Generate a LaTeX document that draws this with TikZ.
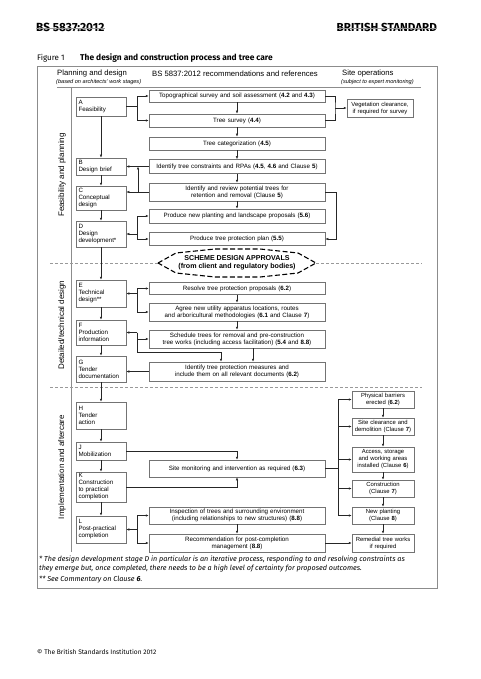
\documentclass[tikz,border=0pt]{standalone}
\usepackage{fontspec}
\setmainfont{Liberation Sans}
\newfontfamily\bsfont{Fira Sans}
\usetikzlibrary{arrows.meta}

\tikzset{
  stagebox/.style={draw=black!55, line width=0.5pt, font=\fontsize{6.2}{7}\selectfont, align=left, text width=45pt, inner xsep=2.5pt, inner ysep=1pt},
  recbox/.style={draw=black!55, line width=0.5pt, font=\fontsize{6.2}{7}\selectfont, align=center, text width=172pt, inner xsep=2pt, inner ysep=1pt},
  sitebox/.style={draw=black!55, line width=0.5pt, font=\fontsize{5.9}{7}\selectfont, align=center, text width=60pt, inner xsep=1pt, inner ysep=1pt},
  conn/.style={draw=black!85, line width=0.5pt},
  arr/.style={conn, -{Latex[length=3pt,width=2.4pt]}},
  sepline/.style={draw=black!40, line width=0.6pt, dash pattern=on 3pt off 2pt},
  laneline/.style={draw=black!45, line width=0.6pt},
  headtext/.style={font=\fontsize{7.7}{8.5}\selectfont, anchor=west, inner sep=0pt},
  subhead/.style={font=\fontsize{5.6}{6.5}\selectfont\itshape, anchor=west, inner sep=0pt},
  lanetext/.style={font=\fontsize{8}{9}\selectfont, rotate=90, inner sep=0pt},
}

\begin{document}
\begin{tikzpicture}[x=1pt,y=1pt,yscale=-1,xscale=1]
        \useasboundingbox (0,0) rectangle (480,679);

        %Page header
        \node[anchor=west, inner sep=0pt, font=\bsfont\bfseries\fontsize{11.8}{13}\selectfont] (bsno) at (36,27) {BS 5837:2012};
        \node[anchor=east, inner sep=0pt, font=\bsfont\bfseries\fontsize{11.6}{13}\selectfont] (bsname) at (437,27) {BRITISH STANDARD};
        \draw [black!40, line width=1pt] ([yshift=-2.5pt]bsno.south west) -- ([yshift=-2.5pt]bsno.south east) ;
        \draw [black!40, line width=1pt] ([yshift=-2.5pt]bsname.south west) -- ([yshift=-2.5pt]bsname.south east) ;
        \node[anchor=west, inner sep=0pt, font=\bsfont\fontsize{8}{9}\selectfont] (fignum) at (37,58) {Figure 1};
        \node[anchor=west, inner sep=0pt, font=\bsfont\bfseries\fontsize{8.4}{9}\selectfont] (figtitle) at (80,58) {The design and construction process and tree care};

        %Shape: Frame
        \draw [black!45, line width=0.7pt] (37,66) rectangle (437,588) ;
        %Straight Lines: header rule and lane rule
        \draw [laneline] (57,87) -- (421,87) ;
        \draw [laneline] (71,87) -- (71,552) ;

        %Column headings
        \node[headtext] (hplan) at (57,74) {Planning and design};
        \node[subhead] (hplansub) at (56,82) {(based on architects' work stages)};
        \node[headtext] (hrec) at (152,74) {BS 5837:2012 recommendations and references};
        \node[headtext] (hsite) at (342,74) {Site operations};
        \node[subhead] (hsitesub) at (341,82) {(subject to expert monitoring)};

        %Lane labels
        \node[lanetext] (lane1) at (62,175) {Feasibility and planning};
        \node[lanetext] (lane2) at (62,325) {Detailed/technical design};
        \node[lanetext] (lane3) at (62,467) {Implementation and aftercare};

        %Dashed separators
        \draw [sepline] (50,263) -- (158,263) ;
        \draw [sepline] (316,263) -- (422,263) ;
        \draw [sepline] (50,387) -- (422,387) ;

        %Stages
        \node[stagebox, minimum height=19pt] (stA) at (101,106.5) {A\\Feasibility};
        \node[stagebox, minimum height=17pt] (stB) at (101,166.5) {B\\Design brief};
        \node[stagebox, minimum height=24pt] (stC) at (101,198) {C\\Conceptual\\design};
        \node[stagebox, minimum height=26pt] (stD) at (101,234) {D\\Design\\development*};
        \node[stagebox, minimum height=27pt] (stE) at (101,293.5) {E\\Technical\\design**};
        \node[stagebox, minimum height=25pt] (stF) at (101,332.5) {F\\Production\\information};
        \node[stagebox, minimum height=26pt] (stG) at (101,369) {G\\Tender\\documentation};
        \node[stagebox, minimum height=27pt] (stH) at (101,415.5) {H\\Tender\\action};
        \node[stagebox, minimum height=18pt] (stJ) at (101,451) {J\\Mobilization};
        \node[stagebox, minimum height=30pt] (stK) at (101,487) {K\\Construction\\to practical\\completion};
        \node[stagebox, minimum height=27pt] (stL) at (101,529.5) {L\\Post-practical\\completion};

        %Recommendations and references
        \node[recbox, minimum height=12pt] (topo) at (237,96) {Topographical survey and soil assessment (\textbf{4.2} and \textbf{4.3})};
        \node[recbox, minimum height=13pt] (survey) at (237,120.5) {Tree survey (\textbf{4.4})};
        \node[recbox, minimum height=13pt] (categ) at (237,143.5) {Tree categorization (\textbf{4.5})};
        \node[recbox, minimum height=14pt] (constr) at (237,166.5) {Identify tree constraints and RPAs (\textbf{4.5}, \textbf{4.6} and Clause \textbf{5})};
        \node[recbox, minimum height=18pt] (review) at (237,192) {Identify and review potential trees for\\retention and removal (Clause \textbf{5})};
        \node[recbox, minimum height=14pt] (planting) at (237,216) {Produce new planting and landscape proposals (\textbf{5.6})};
        \node[recbox, minimum height=13pt] (tpp) at (237,239) {Produce tree protection plan (\textbf{5.5})};
        \node[recbox, minimum height=12pt] (resolve) at (237,288.5) {Resolve tree protection proposals (\textbf{6.2})};
        \node[recbox, minimum height=18pt] (agree) at (237,312) {Agree new utility apparatus locations, routes\\and arboricultural methodologies (\textbf{6.1} and Clause \textbf{7})};
        \node[recbox, minimum height=18pt] (schedule) at (237,339) {Schedule trees for removal and pre-construction\\tree works (including access facilitation) (\textbf{5.4} and \textbf{8.8})};
        \node[recbox, minimum height=19pt] (measures) at (237,371.5) {Identify tree protection measures and\\include them on all relevant documents (\textbf{6.2})};
        \node[recbox, minimum height=17pt] (monitor) at (237,468.5) {Site monitoring and intervention as required (\textbf{6.3})};
        \node[recbox, minimum height=17pt] (inspect) at (237,515.5) {Inspection of trees and surrounding environment\\(including relationships to new structures) (\textbf{8.8})};
        \node[recbox, minimum height=18pt] (recommend) at (237,543) {Recommendation for post-completion\\management (\textbf{8.8})};

        %Scheme design approvals
        \draw [line width=1.1pt, dash pattern=on 5pt off 2.5pt] (158,263) -- (176,253) -- (215,249) -- (260,249) -- (298,253) -- (316,263) -- (298,273) -- (260,277) -- (215,277) -- (176,273) -- cycle ;
        \node[align=center, inner sep=0pt, font=\bfseries\fontsize{7.1}{8}\selectfont] (approvals) at (237,263) {SCHEME DESIGN APPROVALS\\(from client and regulatory bodies)};

        %Site operations
        \node[sitebox, text width=64pt, minimum height=18pt] (veg) at (380,108) {Vegetation clearance,\\if required for survey};
        \node[sitebox, minimum height=17pt] (barriers) at (383,399.5) {Physical barriers\\erected (\textbf{6.2})};
        \node[sitebox, minimum height=17pt] (clearance) at (383,426.5) {Site clearance and\\demolition (Clause \textbf{7})};
        \node[sitebox, minimum height=25pt] (access) at (383,459.5) {Access, storage\\and working areas\\installed (Clause \textbf{6})};
        \node[sitebox, minimum height=17pt] (build) at (383,488.5) {Construction\\(Clause \textbf{7})};
        \node[sitebox, minimum height=17pt] (newplant) at (383,515.5) {New planting\\(Clause \textbf{8})};
        \node[sitebox, minimum height=18pt] (remedial) at (383,543) {Remedial tree works\\if required};

        %Junction points
        \coordinate (forkA) at (137,106.5);
        \coordinate (jB) at (138,166.5);
        \coordinate (forkD) at (137,234);
        \coordinate (forkE) at (137,293.5);
        \coordinate (forkF) at (137,332.5);
        \coordinate (bendF) at (137,352);
        \coordinate (forkL) at (137,529.5);
        \coordinate (vegbr) at (335,108);
        \coordinate (revbr) at (336,192);
        \coordinate (sitebr) at (338,468.5);

        %Straight Lines: stage sequence
        \foreach \a/\b in {stA/stB, stB/stC, stC/stD, stD/stE, stE/stF, stF/stG, stG/stH, stH/stJ, stJ/stK, stK/stL}
          \draw [arr] (\a) -- (\b) ;

        %Straight Lines: recommendations sequence
        \foreach \a/\b in {topo/survey, survey/categ, categ/constr, constr/review, review/planting, resolve/agree, agree/schedule, inspect/recommend}
          \draw [arr] (\a) -- (\b) ;
        \draw [arr] ([xshift=16pt]schedule.south) -- ([xshift=16pt]measures.north) ;

        %Straight Lines: site operations sequence
        \foreach \a/\b in {barriers/clearance, clearance/access, access/build, build/newplant, newplant/remedial}
          \draw [arr] (\a) -- (\b) ;

        %Straight Lines: stage links
        \draw [conn] (stA.east) -- (forkA) ;
        \draw [arr] (forkA) |- (topo.west) ;
        \draw [arr] (forkA) |- (survey.west) ;
        \draw [arr] (constr.west) -- (stB.east) ;
        \draw [arr] (review.west) -- (review.west -| stC.east) ;
        \draw [arr] (jB |- review.west) -- (jB) ;
        \draw [arr] (forkD) -- (stD.east) ;
        \draw [arr] (forkD) |- (planting.west) ;
        \draw [arr] (forkD) |- (tpp.west) ;
        \draw [arr] (forkE) -- (stE.east) ;
        \draw [arr] (forkE) |- (resolve.west) ;
        \draw [arr] (forkE) |- (agree.west) ;
        \draw [arr] (forkF) -- (stF.east) ;
        \draw [arr] (forkF) |- (schedule.west) ;
        \draw [arr] (forkF) -- (bendF) -| ([xshift=-16pt]measures.north) ;
        \draw [arr] (measures.west) -- (measures.west -| stG.east) ;
        \draw [arr] (stJ.east) -| (monitor.north) ;
        \draw [arr] (stK.east) -| (monitor.south) ;
        \draw [arr] (forkL) -- (stL.east) ;
        \draw [arr] (forkL) |- (inspect.west) ;
        \draw [arr] (forkL) |- (recommend.west) ;

        %Straight Lines: site operation links
        \draw [conn] (topo.east) -| (vegbr) |- (survey.east) ;
        \draw [arr] (vegbr) -- (veg.west) ;
        \draw [arr] (review.east) -- (revbr) |- (tpp.east) ;
        \draw [conn] (monitor.east) -- (sitebr) ;
        \draw [conn] (barriers.west -| sitebr) -- (newplant.west -| sitebr) ;
        \foreach \n in {barriers, clearance, access, build, newplant}
          \draw [arr] (\n.west -| sitebr) -- (\n.west) ;
        \draw [arr] (recommend) -- (remedial) ;

        %Notes
        \node[anchor=west, inner sep=0pt, font=\bsfont\itshape\fontsize{7.2}{8}\selectfont] (note1) at (39,559) {* The design development stage D in particular is an iterative process, responding to and resolving constraints as};
        \node[anchor=west, inner sep=0pt, font=\bsfont\itshape\fontsize{7.2}{8}\selectfont] (note2) at (39,568.5) {they emerge but, once completed, there needs to be a high level of certainty for proposed outcomes.};
        \node[anchor=west, inner sep=0pt, font=\bsfont\itshape\fontsize{7.2}{8}\selectfont] (note3) at (39,580) {** See Commentary on Clause \textbf{6}.};

        %Page footer
        \node[anchor=west, inner sep=0pt, font=\bsfont\fontsize{6.6}{7.5}\selectfont] (copyright) at (37,652) {\textcopyright{} The British Standards Institution 2012};
    \end{tikzpicture}
\end{document}
